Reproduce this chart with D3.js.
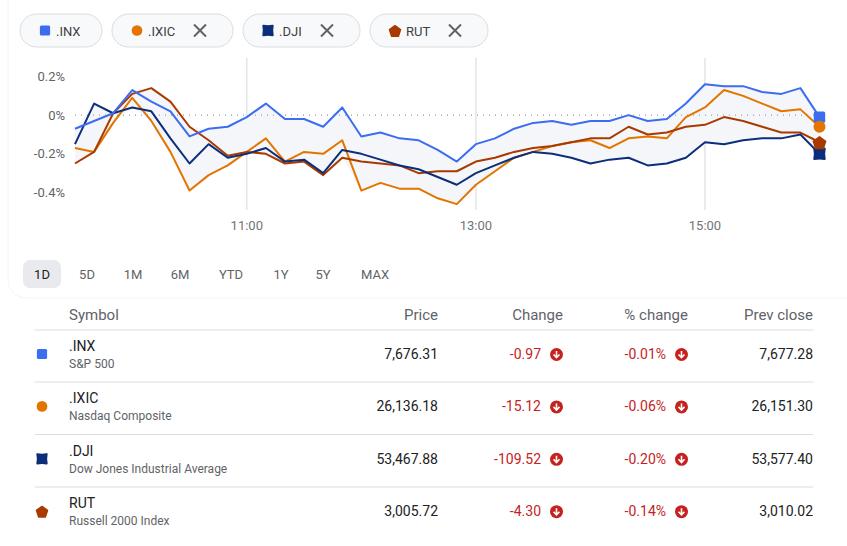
<!DOCTYPE html>
<html>
<head>
<meta charset="utf-8">
<script src="https://cdn.jsdelivr.net/npm/d3@7"></script>
<style>
  body { margin: 0; background: #fff; font-family: Roboto, "Noto Sans", Arial, sans-serif; }
  svg { display: block; }
</style>
</head>
<body>
<div id="chart"></div>
<script>
// minutes since 9:30, one point every 10 minutes
var times = d3.range(0, 400, 10);

var inx  = [-0.07,-0.03,0.01,0.13,0.07,0.02,-0.11,-0.07,-0.06,-0.01,0.06,-0.02,-0.02,-0.06,0.04,-0.11,-0.09,-0.12,-0.13,-0.18,-0.24,-0.15,-0.12,-0.07,-0.04,-0.03,-0.05,-0.03,-0.03,0.00,-0.03,-0.02,0.06,0.16,0.15,0.15,0.12,0.11,0.14,-0.01];
var ixic = [-0.17,-0.19,-0.04,0.09,-0.03,-0.19,-0.39,-0.31,-0.26,-0.19,-0.12,-0.24,-0.19,-0.20,-0.13,-0.39,-0.35,-0.38,-0.38,-0.43,-0.46,-0.36,-0.29,-0.22,-0.19,-0.16,-0.14,-0.13,-0.17,-0.12,-0.11,-0.12,-0.01,0.04,0.13,0.10,0.06,0.02,0.03,-0.06];
var dji  = [-0.15,0.06,0.01,0.04,0.02,-0.12,-0.25,-0.15,-0.22,-0.20,-0.17,-0.24,-0.23,-0.30,-0.18,-0.20,-0.23,-0.26,-0.28,-0.32,-0.36,-0.30,-0.26,-0.22,-0.19,-0.20,-0.22,-0.25,-0.23,-0.22,-0.26,-0.25,-0.22,-0.14,-0.15,-0.13,-0.12,-0.12,-0.10,-0.20];
var rut  = [-0.25,-0.19,0.01,0.11,0.14,0.07,-0.06,-0.13,-0.21,-0.19,-0.20,-0.25,-0.24,-0.31,-0.22,-0.24,-0.25,-0.26,-0.30,-0.29,-0.29,-0.24,-0.22,-0.19,-0.17,-0.16,-0.14,-0.12,-0.12,-0.06,-0.10,-0.09,-0.06,-0.05,-0.01,-0.03,-0.06,-0.09,-0.09,-0.14];

var symbols = ['.INX', '.IXIC', '.DJI', 'RUT'];
var names = ['S&P 500', 'Nasdaq Composite', 'Dow Jones Industrial Average', 'Russell 2000 Index'];
var prices = ['7,676.31', '26,136.18', '53,467.88', '3,005.72'];
var changes = ['-0.97', '-15.12', '-109.52', '-4.30'];
var pctChanges = ['-0.01%', '-0.06%', '-0.20%', '-0.14%'];
var prevCloses = ['7,677.28', '26,151.30', '53,577.40', '3,010.02'];
var yTicks = [0.2, 0, -0.2, -0.4];
var xTicks = [90, 210, 330];
var xTickLabels = ['11:00', '13:00', '15:00'];
var ranges = ['1D', '5D', '1M', '6M', 'YTD', '1Y', '5Y', 'MAX'];

var colors = ['#3c6df0', '#e37400', '#0d2e7a', '#a83a00'];
var series = [inx, ixic, dji, rut];

var W = 847, H = 546;
var svg = d3.select('#chart').append('svg').attr('width', W).attr('height', H);

// card outline
svg.append('rect').attr('x', 8).attr('y', -20).attr('width', 860).attr('height', 318)
  .attr('rx', 18).attr('fill', 'none').attr('stroke', '#f3f4f5');

// chips
var chipX = [20, 112, 243, 370], chipW = [82, 121, 117, 118];
symbols.forEach(function(s, i) {
  var g = svg.append('g').attr('transform', 'translate(' + chipX[i] + ',14)');
  g.append('rect').attr('width', chipW[i]).attr('height', 33).attr('rx', 16.5)
    .attr('fill', '#f8f9fa').attr('stroke', '#dadce0');
  drawMarker(g, i, 25, 16.5, 0.85);
  g.append('text').attr('x', 36).attr('y', 21.5).attr('font-size', 13).attr('fill', '#3c4043').text(s);
  if (i > 0) {
    var cx = chipW[i] - 33;
    g.append('path').attr('d', 'M' + (cx - 6) + ',10.5L' + (cx + 6) + ',22.5M' + (cx + 6) + ',10.5L' + (cx - 6) + ',22.5')
      .attr('stroke', '#5f6368').attr('stroke-width', 2);
  }
});

function drawMarker(g, i, x, y, k) {
  if (i === 0) {
    g.append('rect').attr('x', x - 6 * k).attr('y', y - 6 * k).attr('width', 12 * k).attr('height', 12 * k)
      .attr('rx', 1.5).attr('fill', colors[i]);
  } else if (i === 1) {
    g.append('circle').attr('cx', x).attr('cy', y).attr('r', 6.3 * k).attr('fill', colors[i]);
  } else if (i === 2) {
    var s = 5.5 * k, c = 1.2 * k;
    g.append('path').attr('fill', colors[i]).attr('d',
      'M' + (x - s) + ',' + (y - s) + 'Q' + x + ',' + (y - s + c) + ' ' + (x + s) + ',' + (y - s) +
      'Q' + (x + s - c) + ',' + y + ' ' + (x + s) + ',' + (y + s) +
      'Q' + x + ',' + (y + s - c) + ' ' + (x - s) + ',' + (y + s) +
      'Q' + (x - s + c) + ',' + y + ' ' + (x - s) + ',' + (y - s) + 'Z')
      .attr('stroke', colors[i]).attr('stroke-width', 2).attr('stroke-linejoin', 'round');
  } else {
    var pts = d3.range(5).map(function(j) {
      var a = -Math.PI / 2 + j * 2 * Math.PI / 5;
      return [x + 6.8 * k * Math.cos(a), y + 1 + 6.8 * k * Math.sin(a)];
    });
    g.append('polygon').attr('points', pts.join(' ')).attr('fill', colors[i])
      .attr('stroke', colors[i]).attr('stroke-width', 1.5).attr('stroke-linejoin', 'round');
  }
}

// chart
var xScale = d3.scaleLinear().domain([0, 390]).range([75, 819.5]);
var yScale = d3.scaleLinear().domain([-0.4, 0.2]).range([192.5, 76.5]);

svg.selectAll('line.vgrid').data(xTicks).enter().append('line')
  .attr('x1', function(d) { return xScale(d); }).attr('x2', function(d) { return xScale(d); })
  .attr('y1', 58).attr('y2', 210).attr('stroke', '#e3e5e8').attr('stroke-width', 1.5);

svg.selectAll('text.xlab').data(xTicks).enter().append('text')
  .attr('x', function(d) { return xScale(d); }).attr('y', 230).attr('text-anchor', 'middle')
  .attr('font-size', 13).attr('fill', '#70757a').text(function(d, i) { return xTickLabels[i]; });

svg.selectAll('text.ylab').data(yTicks).enter().append('text')
  .attr('x', 65).attr('y', function(d) { return yScale(d) + 4.5; }).attr('text-anchor', 'end')
  .attr('font-size', 13).attr('fill', '#5f6368')
  .text(function(d) { return d === 0 ? '0%' : (d < 0 ? '-' : '') + Math.abs(d).toFixed(1) + '%'; });

// band between highest and lowest series
var band = times.map(function(t, i) {
  var vals = series.map(function(s) { return s[i]; });
  return {t: t, hi: d3.max(vals), lo: d3.min(vals)};
});
svg.append('path').datum(band)
  .attr('d', d3.area().x(function(d) { return xScale(d.t); })
    .y0(function(d) { return yScale(d.lo); }).y1(function(d) { return yScale(d.hi); }))
  .attr('fill', '#f4f6f9');

svg.append('line').attr('x1', 75).attr('x2', 819).attr('y1', yScale(0)).attr('y2', yScale(0))
  .attr('stroke', '#9aa0a6').attr('stroke-dasharray', '1,5').attr('stroke-width', 1.3);

var line = d3.line().x(function(d, i) { return xScale(times[i]); }).y(function(d) { return yScale(d); });
[1, 3, 2, 0].forEach(function(i) {
  svg.append('path').datum(series[i]).attr('d', line).attr('fill', 'none')
    .attr('stroke', colors[i]).attr('stroke-width', 2).attr('stroke-linejoin', 'round');
});
series.forEach(function(s, i) {
  drawMarker(svg, i, xScale(390), yScale(s[s.length - 1]), 0.95);
});

// range buttons
var rangeX = [42, 87, 133, 180, 231, 281, 323, 375];
svg.append('rect').attr('x', 23).attr('y', 260).attr('width', 38).attr('height', 28).attr('rx', 7).attr('fill', '#e8eaed');
ranges.forEach(function(r, i) {
  svg.append('text').attr('x', rangeX[i]).attr('y', 278.5).attr('text-anchor', 'middle')
    .attr('font-size', 13).attr('fill', i === 0 ? '#202124' : '#5f6368').text(r);
});

// table
var colX = [438, 563, 688, 813];
var headers = ['Price', 'Change', '% change', 'Prev close'];
svg.append('text').attr('x', 69).attr('y', 320).attr('font-size', 15).attr('fill', '#5f6368').text('Symbol');
headers.forEach(function(h, i) {
  svg.append('text').attr('x', colX[i]).attr('y', 320).attr('text-anchor', 'end')
    .attr('font-size', 15).attr('fill', '#5f6368').text(h);
});
[330, 382, 434.5, 487].forEach(function(y) {
  svg.append('line').attr('x1', 35).attr('x2', 813).attr('y1', y).attr('y2', y).attr('stroke', '#dadce0');
});

function downIcon(x, y) {
  svg.append('circle').attr('cx', x).attr('cy', y).attr('r', 6.5).attr('fill', '#c5221f');
  svg.append('path').attr('d', 'M' + x + ',' + (y - 3.5) + 'V' + (y + 3) + 'M' + (x - 3) + ',' + y + 'L' + x + ',' + (y + 3.2) + 'L' + (x + 3) + ',' + y)
    .attr('stroke', '#fff').attr('stroke-width', 1.6).attr('fill', 'none');
}

symbols.forEach(function(s, i) {
  var y0 = 330 + i * 52.4;
  drawMarker(svg, i, 42, y0 + 24, 0.85);
  svg.append('text').attr('x', 69).attr('y', y0 + 21).attr('font-size', 14).attr('fill', '#202124').text(s);
  svg.append('text').attr('x', 69).attr('y', y0 + 38).attr('font-size', 12).attr('fill', '#5f6368').text(names[i]);
  svg.append('text').attr('x', colX[0]).attr('y', y0 + 29).attr('text-anchor', 'end').attr('font-size', 14).attr('fill', '#202124').text(prices[i]);
  svg.append('text').attr('x', colX[1] - 22).attr('y', y0 + 29).attr('text-anchor', 'end').attr('font-size', 14).attr('fill', '#c5221f').text(changes[i]);
  downIcon(colX[1] - 6.5, y0 + 24.5);
  svg.append('text').attr('x', colX[2] - 22).attr('y', y0 + 29).attr('text-anchor', 'end').attr('font-size', 14).attr('fill', '#c5221f').text(pctChanges[i]);
  downIcon(colX[2] - 6.5, y0 + 24.5);
  svg.append('text').attr('x', colX[3]).attr('y', y0 + 29).attr('text-anchor', 'end').attr('font-size', 14).attr('fill', '#202124').text(prevCloses[i]);
});
</script>
</body>
</html>
